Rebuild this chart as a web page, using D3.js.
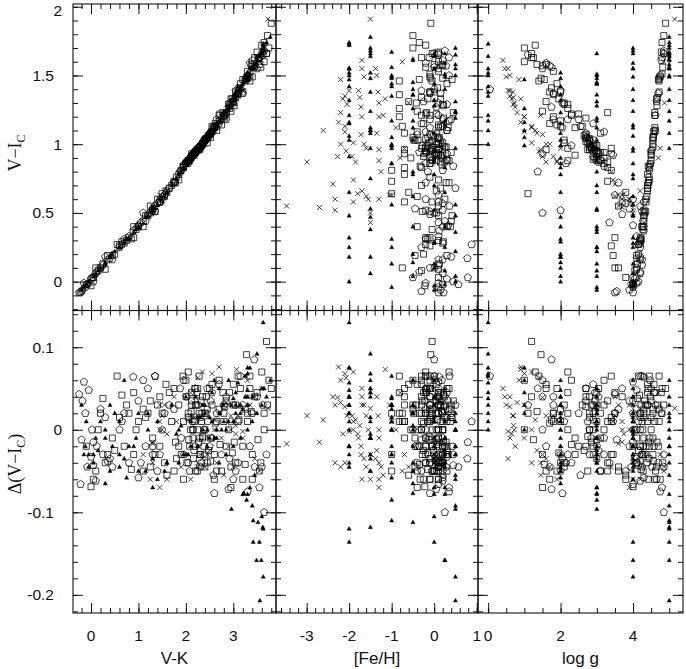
<!DOCTYPE html>
<html><head><meta charset="utf-8">
<script src="https://cdn.jsdelivr.net/npm/d3@7"></script>
<style>body{margin:0;background:#fff}svg{display:block}</style>
</head><body><svg id="c" width="686" height="669"></svg>
<script>
// rows: [V-K, V-Ic, Delta(V-Ic), [Fe/H], log g]
const squares=[
[3.70,1.66,0.107,-0.05,1.2],[3.28,1.48,0.091,-0.08,1.46],[3.75,1.70,0.06,-0.5,1.0],[3.80,1.88,0.05,-0.08,4.9],[3.72,1.79,0.03,-0.5,4.85],
[3.65,1.60,0.0,0.1,1.0],[3.60,1.72,0.07,-0.2,1.3],[3.55,1.58,-0.05,0.0,1.6],[3.45,1.63,0.04,-0.3,1.2],[3.40,1.57,-0.03,0.2,1.5],
[3.35,1.46,0.065,-0.82,1.4],[3.30,1.53,0.02,0.1,1.8],[3.20,1.38,-0.06,-0.1,1.7],[3.15,1.44,0.05,0.3,1.9],[3.10,1.36,0.01,-0.82,1.8],
[3.05,1.38,-0.04,-0.1,2.0],[3.00,1.30,0.03,-0.42,2.1],[2.95,1.24,-0.07,-0.4,1.5],[2.92,1.26,0.045,-0.82,2.2],[2.90,1.29,0.0,0.2,2.2],
[2.85,1.22,-0.02,-0.2,2.5],[2.80,1.20,0.02,-0.82,1.8],[2.75,1.14,-0.05,0.1,1.9],[2.70,1.21,0.06,-0.3,2.3],[2.65,1.13,0.01,-0.75,2.0],
[2.60,1.12,-0.03,0.33,2.4],[2.55,1.13,0.03,0.15,2.6],[2.52,1.08,-0.01,-0.7,3.1],[2.50,1.07,0.05,-0.1,2.7],[2.45,1.01,-0.04,0.2,2.1],
[2.42,1.04,0.02,-0.2,2.8],[2.40,1.03,0.0,-0.38,2.9],[2.38,1.02,-0.02,-0.05,2.7],[2.35,1.00,0.04,0.1,2.8],[2.33,0.99,0.01,-0.15,3.0],
[2.30,0.98,-0.03,0.28,2.9],[2.28,0.97,0.02,-0.3,2.2],[2.25,0.96,0.0,0.2,2.8],[2.22,0.95,0.03,-0.1,3.0],[2.20,0.94,-0.05,0.05,3.1],
[2.18,0.93,0.01,-0.7,3.4],[2.15,0.92,-0.01,0.1,2.4],[2.12,0.91,0.045,-0.25,3.0],[2.10,0.90,0.0,-0.55,3.2],[2.08,0.89,-0.02,0.3,2.9],
[2.05,0.88,0.02,-0.05,3.1],[2.02,0.87,-0.04,0.15,3.3],[2.00,0.86,0.06,-0.1,3.2],[1.95,0.83,0.01,-0.7,3.3],[2.28,0.97,0.065,-0.2,3.4],
[1.90,0.81,-0.03,-1.0,3.4],[1.75,0.73,-0.05,-1.0,3.3],[1.50,0.64,0.02,-1.0,1.1],[1.85,0.78,0.03,-0.7,4.4],[2.25,0.96,0.05,-0.7,1.6],
[3.65,1.74,0.02,-0.35,4.8],[3.58,1.56,-0.04,-0.2,4.82],[3.50,1.67,0.045,0.1,4.78],[3.40,1.49,-0.06,-0.1,4.75],[3.30,1.48,0.01,0.2,4.72],
[3.20,1.47,-0.02,0.42,4.7],[3.05,1.34,0.03,-0.3,4.68],[2.95,1.33,-0.045,0.15,4.65],[2.80,1.21,0.01,-0.1,4.6],[2.65,1.10,-0.05,0.3,4.62],
[2.55,1.09,0.055,-0.4,4.58],[2.40,1.03,0.02,-0.48,4.55],[2.30,0.98,-0.03,-0.2,4.55],[2.15,0.92,0.0,0.2,4.5],[2.00,0.86,0.04,-0.1,4.48],
[1.85,0.74,-0.02,0.1,4.45],[1.70,0.70,0.01,-0.3,4.4],[1.55,0.62,-0.04,-0.4,4.38],[1.40,0.60,0.03,0.25,4.35],[1.30,0.52,-0.01,-0.2,4.3],
[1.20,0.48,0.02,0.1,4.3],[1.10,0.40,-0.05,-0.4,4.28],[1.00,0.40,0.01,0.38,4.25],[0.90,0.40,-0.03,0.3,4.25],[0.80,0.32,0.02,-0.1,4.2],
[0.70,0.28,-0.02,0.2,4.2],[0.55,0.27,0.065,-0.2,4.15],[0.45,0.19,-0.01,-0.45,4.1],[0.30,0.09,-0.04,0.1,4.1],[0.15,0.08,0.0,-0.3,4.05],
[0.00,-0.03,-0.069,-0.22,4.0],[-0.10,-0.02,-0.02,0.2,4.0],[1.60,0.65,-0.055,-0.6,3.8],[1.45,0.58,0.04,-0.7,3.7],[1.25,0.55,-0.045,0.1,3.6],
[0.90,0.32,0.045,-0.2,3.5],[0.60,0.26,0.015,-0.1,3.4],[0.35,0.19,-0.03,0.3,3.45],[0.20,0.10,0.02,-0.75,3.5],[0.10,0.10,-0.05,0.0,3.6],
[2.60,1.12,-0.06,0.1,4.6],[3.10,1.38,0.065,0.0,4.72],[3.35,1.51,0.05,-0.1,4.8],[2.85,1.23,0.035,0.45,3.3],[1.95,0.84,-0.06,-0.33,4.42],
[2.45,1.05,0.025,-0.5,4.55],[2.05,0.88,0.07,0.35,2.2],[2.40,1.03,-0.045,-0.45,2.1],[2.70,1.17,0.025,0.35,2.0],[3.00,1.31,0.055,-0.6,1.6],
[2.20,0.94,0.03,0.4,3.2],[1.75,0.72,0.05,0.35,4.42],[1.10,0.44,0.025,0.4,4.3],
[2.32,0.99,0.035,-0.28,2.95],[2.27,0.97,-0.015,0.12,2.85],[2.21,0.95,0.012,-0.08,2.9],[2.16,0.93,-0.035,0.02,3.0],[2.11,0.90,0.022,0.18,2.95],
[2.36,1.01,-0.008,-0.12,2.75],[2.43,1.04,0.04,0.08,2.7],[2.48,1.06,-0.025,-0.02,2.65],[2.19,0.94,0.05,-0.18,3.05],[2.06,0.88,-0.012,0.05,3.0],
[2.30,0.98,0.015,0.25,2.8],[2.24,0.96,-0.05,-0.05,2.75],
[1.25,0.50,0.035,0.05,4.32],[1.45,0.58,-0.02,-0.05,4.36],[1.65,0.68,0.045,0.15,4.4],[1.80,0.76,-0.035,-0.1,4.44],[2.05,0.88,0.015,0.3,4.5],
[2.35,1.00,-0.01,0.1,4.55],[0.95,0.38,0.0,-0.05,4.27],[0.75,0.30,0.03,0.1,4.22],[0.05,0.03,-0.06,0.1,3.8],[1.94,0.83,0.065,-0.3,4.45],
[2.62,1.15,0.008,-0.25,1.7],[2.72,1.22,-0.018,0.05,2.3],[2.82,1.19,0.028,0.22,2.7],[2.98,1.33,-0.028,-0.15,1.95],[3.12,1.41,0.012,0.08,1.75],
[3.25,1.47,-0.042,-0.35,1.55],[3.38,1.58,0.022,0.18,1.35],[3.52,1.63,-0.012,-0.12,1.25],
[0.25,0.13,0.038,0.12,4.12],[0.50,0.20,-0.025,-0.25,4.15],[0.65,0.29,0.042,0.22,4.18],[0.85,0.31,-0.048,-0.15,4.22],[1.15,0.48,0.015,0.42,4.3],
[1.35,0.51,-0.03,-0.28,4.35],[1.58,0.66,0.055,0.05,4.4],[1.78,0.72,-0.015,0.28,4.43],[2.12,0.93,0.035,-0.22,4.5],[2.52,1.05,-0.038,0.12,4.56],
[2.78,1.23,0.045,-0.18,4.6],[3.02,1.28,-0.015,0.22,4.66],[3.25,1.46,0.025,-0.05,4.72]
];
const pentagons=[
[3.44,1.56,0.085,0.0,1.75],[3.15,1.40,0.065,0.0,0.05],[3.50,1.55,0.04,0.1,1.5],[3.35,1.59,-0.02,-0.2,1.6],[3.20,1.37,0.03,0.15,1.8],
[3.05,1.39,-0.05,-0.3,2.0],[2.95,1.29,0.01,0.3,2.1],[2.85,1.18,0.04,-0.1,1.8],[2.75,1.18,-0.03,0.2,2.2],[2.65,1.18,0.02,0.4,2.5],
[2.55,1.09,-0.01,-0.2,3.2],[2.45,1.05,0.05,0.1,2.7],[2.38,1.02,0.0,0.05,2.8],[2.32,0.99,-0.04,0.2,2.3],[2.26,0.97,0.03,-0.1,2.85],
[2.20,0.94,-0.02,-0.35,3.0],[2.14,0.92,0.01,0.15,3.45],[2.08,0.89,-0.05,-0.05,3.1],[2.02,0.87,0.04,0.25,3.05],[1.96,0.84,-0.03,0.45,3.2],
[1.88,0.80,0.05,-0.15,1.37],[2.15,0.93,0.0,0.1,1.5],[2.05,0.86,-0.04,-0.2,2.15],[1.10,0.50,0.06,0.0,1.5],[1.30,0.52,-0.03,0.2,2.0],
[3.45,1.57,-0.045,0.28,1.7],[3.62,1.65,0.03,0.1,1.1],
[3.70,1.66,-0.03,0.0,4.85],[3.40,1.61,0.02,0.2,4.78],[3.10,1.37,-0.04,-0.1,4.7],[2.80,1.21,0.03,0.1,4.62],[2.50,1.07,-0.02,-0.4,4.58],
[2.20,0.95,0.05,-0.2,4.5],[1.90,0.81,-0.01,0.2,4.45],[1.65,0.68,0.03,0.5,4.4],[1.45,0.58,-0.03,0.1,4.3],[1.35,0.55,0.065,0.36,4.2],
[1.20,0.49,0.05,-0.1,3.7],[1.30,0.53,-0.02,-0.45,3.9],[1.50,0.60,0.0,-0.2,4.0],[1.55,0.63,0.02,0.1,3.5],[1.40,0.57,-0.05,0.2,3.8],
[1.00,0.41,0.035,0.33,4.0],[0.80,0.33,-0.04,0.1,4.1],[0.65,0.27,0.01,0.88,4.15],[0.40,0.17,-0.035,0.78,4.1],[0.05,0.03,-0.015,0.79,4.0],
[-0.08,-0.02,-0.045,0.57,3.95],[-0.25,-0.08,0.043,0.22,3.5],[-0.20,-0.07,-0.012,-0.3,3.55],[-0.15,-0.01,0.058,0.1,4.0],[-0.05,-0.01,0.048,-0.2,4.1],
[0.00,0.02,-0.033,0.3,4.05],[0.05,0.00,-0.043,0.45,4.15],[0.10,0.06,-0.062,0.2,4.2],[0.20,0.10,0.025,-0.1,4.1],[0.30,0.18,0.015,0.4,4.2],
[0.45,0.16,-0.045,0.1,4.25],[0.60,0.25,0.0,-0.3,4.2],[0.89,0.37,0.064,0.12,4.3],[1.00,0.40,-0.058,0.2,4.3],[1.35,0.51,0.065,-0.1,4.25],
[1.05,0.43,-0.04,0.1,3.35],[2.55,1.10,0.045,0.3,4.58],[3.00,1.31,-0.06,-0.25,4.65],[3.55,1.63,-0.07,0.35,4.8],[3.60,1.66,-0.045,0.1,4.85],
[1.75,0.72,0.025,-0.2,3.6],[3.65,1.68,-0.1,0.25,4.85],[3.30,1.50,-0.075,0.35,4.75],[2.90,1.27,-0.072,0.05,1.75],[2.60,1.12,-0.077,-0.1,2.05],
[2.34,1.00,0.02,0.05,2.9],[2.29,0.98,-0.01,-0.05,2.85],[2.23,0.96,0.045,0.1,2.95],[2.17,0.93,-0.025,0.3,3.05],[2.12,0.91,0.03,-0.1,2.9],
[2.40,1.03,-0.03,0.15,2.8],[2.46,1.05,0.01,-0.15,2.75],[2.52,1.08,0.035,0.05,2.7],
[-0.18,-0.06,0.035,0.15,3.9],[-0.12,-0.04,0.02,0.1,4.0],[0.02,0.03,0.0,-0.5,4.1],[0.12,0.07,-0.02,-0.35,4.2],[0.25,0.12,-0.03,0.1,4.25],
[0.35,0.16,-0.038,0.2,4.2],[-0.22,-0.08,-0.066,0.1,4.0],
[2.58,1.13,-0.055,0.2,2.55],[2.70,1.15,0.055,-0.3,2.9],[2.92,1.30,-0.035,0.1,2.05],[0.70,0.31,0.02,-0.2,4.2],[1.15,0.44,-0.02,0.25,4.28],
[1.95,0.85,0.06,0.18,4.47],[2.30,0.96,-0.045,0.1,4.52]
];
const crosses=[
[1.30,0.55,-0.017,-3.47,3.6],[2.10,0.87,0.017,-2.99,1.6],[1.30,0.54,-0.015,-2.7,3.7],[2.60,1.10,0.012,-2.61,1.3],[1.75,0.71,0.04,-2.38,3.5],
[1.45,0.60,0.03,-2.33,3.9],[1.30,0.52,-0.04,-2.33,4.0],[2.70,1.16,0.076,-2.25,0.9],[2.55,1.09,0.068,-2.1,1.0],[2.25,0.95,0.063,-2.07,1.4],
[2.20,0.91,0.039,-2.27,1.5],[2.85,1.23,0.033,-2.2,0.8],[3.10,1.35,0.028,-2.1,0.6],[2.95,1.29,0.017,-2.05,0.7],[3.20,1.39,-0.002,-2.0,0.55],
[3.05,1.33,-0.005,-2.15,0.65],[2.40,1.00,-0.045,-2.2,1.7],[2.65,1.13,-0.04,-2.1,1.2],[2.15,0.91,0.017,-1.93,1.8],[2.05,0.87,0.012,-1.85,1.9],
[1.80,0.74,0.01,-1.9,3.45],[1.50,0.58,0.0,-1.9,3.9],[1.60,0.64,-0.005,-1.8,3.75],[3.20,1.39,-0.01,-1.78,0.6],[3.05,1.34,0.005,-1.75,0.7],
[2.90,1.27,-0.02,-1.72,0.75],[2.80,1.20,0.03,-1.7,1.0],[3.60,1.61,0.05,-1.7,0.41],[3.45,1.55,0.04,-1.7,0.46],[3.35,1.49,0.03,-1.65,0.5],
[2.45,1.07,-0.03,-1.72,1.5],[2.35,1.00,-0.035,-1.65,1.6],[2.25,0.97,-0.045,-1.6,2.0],[1.60,0.66,-0.06,-1.7,4.2],[1.50,0.62,0.017,-1.6,3.5],
[1.45,0.60,0.0,-1.55,3.7],[1.10,0.43,-0.03,-1.5,4.3],[3.45,1.55,-0.035,-1.38,0.55],[3.30,1.50,0.04,-1.35,0.6],[3.10,1.38,0.017,-1.32,0.68],
[2.95,1.30,0.0,-1.3,0.72],[2.75,1.20,-0.01,-1.3,1.0],[2.50,1.08,-0.025,-1.35,1.35],[2.25,0.96,-0.04,-1.3,1.45],[2.10,0.88,-0.06,-1.3,1.9],
[1.90,0.80,-0.045,-1.25,3.4],[1.45,0.60,-0.07,-1.3,3.9],[1.55,0.63,0.03,-1.05,3.6],[1.45,0.63,0.01,-1.0,3.7],[2.60,1.12,0.0,-0.9,1.2],
[3.73,1.91,0.026,-1.5,5.15],[3.00,1.30,-0.045,-0.6,4.87],[2.30,0.97,-0.03,-0.7,4.75],[2.10,0.90,0.045,-0.8,4.7],[3.07,1.33,0.073,-1.15,0.9],
[3.30,1.47,0.06,-2.2,0.85],[2.80,1.21,-0.055,-1.2,1.45],[3.55,1.60,-0.05,-0.75,4.85],[1.25,0.50,-0.06,-1.5,4.0],[2.35,1.01,0.07,-1.9,1.2]
];
const triangles=[
[3.63,1.73,0.13,-2,0],[3.50,1.64,0.092,-1.5,0],[3.35,1.55,0.075,-2,0],[3.30,1.52,0.068,-1.5,0],[3.25,1.50,0.065,-1,0],
[3.10,1.42,0.057,-2,0],[3.05,1.38,0.045,-1.5,0],[3.00,1.35,0.038,-1,0],[2.78,1.21,0.03,-2,0],[2.72,1.17,0.02,-0.5,0],
[2.55,1.10,0.01,-1.5,0],[2.36,1.00,0.0,-1,0],
[3.30,1.47,0.075,-2,1],[2.55,1.10,0.045,-1.5,1],[2.35,0.99,0.03,-1,1],[2.90,1.26,0.06,-0.5,1],[2.70,1.16,0.02,-2,1],[2.45,1.05,0.0,-1,1],
[3.30,1.52,0.048,-2,2],[3.25,1.48,0.04,-1.5,2],[3.15,1.42,0.03,-1,2],[3.05,1.36,0.02,-0.5,2],[2.95,1.32,0.03,0,2],
[2.80,1.23,0.01,0.5,2],[2.65,1.15,0.0,-2,2],[2.50,1.08,-0.01,-1.5,2],[2.30,0.99,0.015,-1,2],[2.10,0.90,-0.02,0,2],
[1.95,0.83,-0.03,0.25,2],[1.85,0.78,0.0,-0.5,2],[1.60,0.65,-0.04,-2,2],[1.15,0.47,-0.05,-1.5,2],[0.75,0.31,-0.058,-1,2],
[0.45,0.20,-0.02,-0.5,2],[0.20,0.10,0.01,0,2],[0.05,0.04,-0.03,0.5,2],[-0.05,0.0,-0.045,-2,2],
[3.60,1.66,0.05,-1.5,3],[3.30,1.50,0.04,-2,3],[3.20,1.44,0.025,-1,3],[3.05,1.36,0.03,-0.5,3],[2.90,1.28,0.01,0,3],
[2.75,1.19,0.0,0.5,3],[2.60,1.12,-0.01,-1.5,3],[2.40,1.03,0.02,-2,3],[2.25,0.97,-0.02,-1,3],[2.05,0.88,-0.03,0,3],
[1.90,0.80,0.005,-0.5,3],[1.60,0.65,-0.04,0.25,3],[1.30,0.53,-0.035,-1.5,3],[0.90,0.36,-0.02,0.5,3],[0.60,0.25,-0.03,-2,3],
[0.30,0.13,-0.01,0,3],[0.05,0.04,-0.04,-0.5,3],[-0.15,-0.04,-0.03,-1,3],[2.96,1.31,-0.096,0.5,3],[3.28,1.48,-0.085,-1,3],
[3.20,1.44,-0.078,0,3],[3.35,1.51,-0.07,0.25,3],[3.22,1.45,-0.077,-0.5,3],
[3.65,1.68,0.05,-1.5,4],[3.40,1.55,0.04,-2,4],[3.30,1.49,0.03,-1,4],[3.15,1.40,0.02,-0.5,4],[3.00,1.32,0.01,0,4],
[2.85,1.24,0.0,0.5,4],[2.65,1.14,-0.01,0.25,4],[2.45,1.06,-0.02,-2,4],[2.25,0.97,0.015,-1.5,4],[2.00,0.86,-0.03,-1,4],
[1.85,0.78,-0.04,0,4],[1.55,0.62,-0.05,-0.5,4],[1.40,0.56,-0.06,0.5,4],[0.80,0.32,-0.02,-2,4],[0.70,0.28,-0.035,0,4],
[0.30,0.13,0.0,-1,4],[0.10,0.06,-0.01,-1.5,4],[-0.05,0.0,-0.03,0.5,4],[-0.12,-0.03,-0.02,0,4],[3.60,1.66,-0.105,0,4],
[3.42,1.55,-0.136,-2,4],[3.49,1.59,-0.158,0.25,4],[3.63,1.70,-0.178,0.5,4],
[3.78,1.78,0.06,-1.5,5],[3.70,1.74,0.04,-2,5],[3.60,1.67,0.03,-1,5],[3.50,1.62,0.02,-0.5,5],[3.40,1.55,0.01,0,5],
[3.30,1.50,0.0,0.5,5],[3.15,1.40,-0.01,0.25,5],[3.00,1.32,-0.02,-2,5],[2.85,1.24,-0.03,-1.5,5],[2.70,1.17,-0.04,-1,5],
[2.50,1.08,0.015,0,5],[2.25,0.97,-0.02,0.5,5],[3.45,1.58,-0.055,0.5,5],[3.30,1.49,-0.078,0.25,5],[3.40,1.55,-0.092,0.5,5],
[3.42,1.56,-0.11,-1,5],[3.52,1.61,-0.112,-0.5,5],[3.63,1.72,-0.12,-2,5],[3.62,1.70,-0.118,-1.5,5],[3.55,1.64,-0.136,0,5],
[3.59,1.66,-0.158,0.25,5],[3.56,1.65,-0.207,0.5,5],
[2.20,0.95,0.04,0,4],[1.70,0.70,0.03,0,3],[1.00,0.40,0.02,0.25,2],[2.70,1.17,0.05,0.25,3],[1.20,0.48,0.0,0.5,4],
[0.50,0.22,0.02,0.5,3],[2.40,1.03,0.03,-0.5,2],[1.40,0.56,0.01,-1,4],[0.95,0.38,-0.01,-1.5,3],[2.10,0.91,0.01,-2,3],
[1.20,0.48,0.02,-2,4],[0.40,0.18,0.03,-2,2],[1.80,0.75,-0.005,-1.5,4],[0.40,0.18,-0.05,-1.5,2],[2.00,0.86,0.04,-1,2],
[0.60,0.25,0.01,-1,3],[1.00,0.40,-0.05,-0.5,3],[2.60,1.12,0.06,-0.5,4],[0.30,0.14,-0.065,-0.5,2],[0.70,0.29,0.06,0,2],
[1.30,0.52,-0.07,0,3],[-0.20,-0.06,0.03,0,3],[-0.10,-0.02,0.01,0.25,4],[0.15,0.08,-0.025,0.25,3],[0.60,0.25,-0.045,0.25,4]
];

const vkTicks=[0,1,2,3];
const fehTicks=[-3,-2,-1,0,1];
const loggTicks=[0,2,4];
const viTicks=[0,0.5,1,1.5,2];
const dviTicks=[-0.2,-0.1,0,0.1];
const xTitles=["V-K","[Fe/H]","log g"];

const svg=d3.select("#c");
const cols=[
 {idx:0,sc:d3.scaleLinear().domain([-0.38,3.9]).range([73,276]),major:vkTicks,minor:d3.range(-0.2,3.81,0.2)},
 {idx:3,sc:d3.scaleLinear().domain([-3.72,1.03]).range([276,478]),major:fehTicks,minor:d3.range(-3.6,1.01,0.2)},
 {idx:4,sc:d3.scaleLinear().domain([-0.28,5.38]).range([478,683]),major:loggTicks,minor:d3.range(0,5.01,0.5)}
];
const rows=[
 {idx:1,sc:d3.scaleLinear().domain([-0.21,2.02]).range([310.5,4]),major:viTicks,minor:d3.range(-0.2,2.001,0.1)},
 {idx:2,sc:d3.scaleLinear().domain([-0.222,0.1445]).range([613,310.5]),major:dviTicks,minor:d3.range(-0.22,0.141,0.02)}
];

function pent(r){let p=[];for(let i=0;i<5;i++){const a=-Math.PI/2+i*2*Math.PI/5;p.push([r*Math.cos(a),r*Math.sin(a)]);}return "M"+p.map(q=>q[0].toFixed(2)+","+q[1].toFixed(2)).join("L")+"Z";}
const markers=[
 {data:squares,d:"M-3,-3h6v6h-6z",fill:"none"},
 {data:pentagons,d:pent(3.9),fill:"none"},
 {data:crosses,d:"M-2.5,-2.5L2.5,2.5M-2.5,2.5L2.5,-2.5",fill:"none"},
 {data:triangles,d:"M0,-2.3L2.1,1.5L-2.1,1.5Z",fill:"#000"}
];

const defs=svg.append("defs");
rows.forEach((R,ri)=>cols.forEach((C,ci)=>{
  const [x0,x1]=C.sc.range(),[y1,y0]=R.sc.range();
  const id="cp"+ri+ci;
  defs.append("clipPath").attr("id",id).append("rect").attr("x",x0).attr("y",y0).attr("width",x1-x0).attr("height",y1-y0);
  const g=svg.append("g").attr("clip-path",`url(#${id})`);
  markers.forEach(m=>{
    g.selectAll(null).data(m.data).enter().append("path")
     .attr("d",m.d)
     .attr("transform",d=>`translate(${C.sc(d[C.idx]).toFixed(2)},${R.sc(d[R.idx]).toFixed(2)})`)
     .attr("fill",m.fill).attr("stroke","#000").attr("stroke-width",m.fill==="none"?0.75:0.4);
  });
}));

rows.forEach((R,ri)=>cols.forEach((C,ci)=>{
  const [x0,x1]=C.sc.range(),[y1,y0]=R.sc.range();
  const ax=svg.append("g");
  const add=(gen,tr)=>{const a=ax.append("g").attr("transform",tr).call(gen);a.select(".domain").remove();a.selectAll("line").attr("stroke","#111");};
  add(d3.axisBottom(C.sc).tickValues(C.minor).tickSize(-5).tickFormat(""),`translate(0,${y1})`);
  add(d3.axisBottom(C.sc).tickValues(C.major).tickSize(-10).tickFormat(""),`translate(0,${y1})`);
  add(d3.axisTop(C.sc).tickValues(C.minor).tickSize(-5).tickFormat(""),`translate(0,${y0})`);
  add(d3.axisTop(C.sc).tickValues(C.major).tickSize(-10).tickFormat(""),`translate(0,${y0})`);
  add(d3.axisLeft(R.sc).tickValues(R.minor).tickSize(-5).tickFormat(""),`translate(${x0},0)`);
  add(d3.axisLeft(R.sc).tickValues(R.major).tickSize(-10).tickFormat(""),`translate(${x0},0)`);
  add(d3.axisRight(R.sc).tickValues(R.minor).tickSize(-5).tickFormat(""),`translate(${x1},0)`);
  add(d3.axisRight(R.sc).tickValues(R.major).tickSize(-10).tickFormat(""),`translate(${x1},0)`);
  ax.append("rect").attr("x",x0).attr("y",y0).attr("width",x1-x0).attr("height",y1-y0)
    .attr("fill","none").attr("stroke","#111").attr("stroke-width",1.1);
}));

const font="'Liberation Sans',Arial,Helvetica,sans-serif";
cols.forEach((C,ci)=>{
  svg.append("g").selectAll("text").data(C.major).enter().append("text")
    .attr("x",d=>C.sc(d)).attr("y",641).attr("text-anchor","middle")
    .attr("font-family",font).attr("font-size",15.5).attr("fill","#111")
    .text(d=>String(d));
  const [a,b]=C.sc.range();
  svg.append("text").attr("x",(a+b)/2).attr("y",664).attr("text-anchor","middle")
    .attr("font-family",font).attr("font-size",17).attr("fill","#111").text(xTitles[ci]);
});
rows.forEach(R=>{
  svg.append("g").selectAll("text").data(R.major).enter().append("text")
    .attr("x",d=>Number.isInteger(d)?62:54).attr("y",d=>Math.max(R.sc(d),10.5)).attr("dy","0.36em")
    .attr("text-anchor","end").attr("font-family",font).attr("font-size",15.5).attr("fill","#111")
    .text(d=>String(d));
});
const serif="'Liberation Serif','Times New Roman',serif";
const t1=svg.append("text").attr("transform","translate(21,153) rotate(-90)").attr("text-anchor","middle")
  .attr("font-family",serif).attr("font-size",18).attr("fill","#111");
t1.append("tspan").text("V−I");
t1.append("tspan").attr("font-size",12).attr("dy",4).text("C");
const t2=svg.append("text").attr("transform","translate(21,464) rotate(-90)").attr("text-anchor","middle")
  .attr("font-family",serif).attr("font-size",18).attr("fill","#111");
t2.append("tspan").text("Δ(V−I");
t2.append("tspan").attr("font-size",12).attr("dy",4).text("C");
t2.append("tspan").attr("dy",-4).text(")");
</script></body></html>
